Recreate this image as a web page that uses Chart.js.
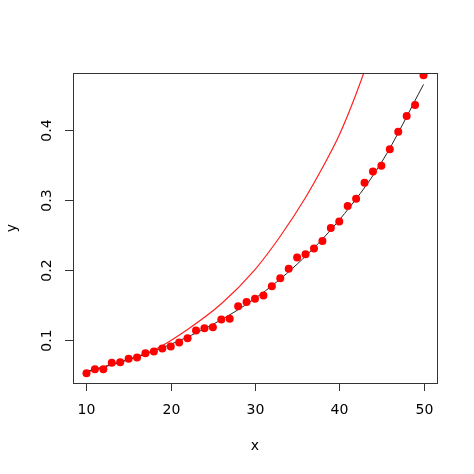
<!DOCTYPE html>
<html>
<head>
<meta charset="utf-8">
<script src="https://cdn.jsdelivr.net/npm/chart.js@4/dist/chart.umd.min.js"></script>
<style>
  html, body { margin: 0; padding: 0; background: #fff; }
</style>
</head>
<body>
<canvas id="grafico" width="474" height="474"></canvas>
<script>
// observed points
const xObs = [10,11,12,13,14,15,16,17,18,19,20,21,22,23,24,25,26,27,28,29,30,
              31,32,33,34,35,36,37,38,39,40,41,42,43,44,45,46,47,48,49,50];
const yObs = [0.0533,0.0590,0.0590,0.0681,0.0690,0.0738,0.0757,0.0819,0.0843,0.0886,0.0914,
              0.0971,0.1033,0.1143,0.1176,0.1190,0.1300,0.1310,0.1490,0.1548,0.1595,
              0.1643,0.1776,0.1890,0.2024,0.2186,0.2233,0.2314,0.2419,0.2605,0.2700,
              0.2919,0.3024,0.3252,0.3414,0.3495,0.3729,0.3981,0.4205,0.4362,0.4786];

// fitted curve (black)
const xFit = [10,15,20,25,30,35,40,45,50];
const yFit = [0.0557,0.0725,0.0945,0.1230,0.1600,0.2090,0.2720,0.3540,0.4655];

// other curve (red), goes off the top
const xRed = [10,14,18,22,26,30,33,36,38,40,42,44];
const yRed = [0.0547,0.0695,0.0863,0.1158,0.1524,0.2013,0.2488,0.3042,0.3465,0.3934,0.4520,0.5190];

const xTicks = [10,20,30,40,50];
const yTicks = [0.1,0.2,0.3,0.4];
const xLab = "x", yLab = "y";

const fuente = "DejaVu Sans";

function pares(xs, ys){
    let out = [];
    for(i=0;i<xs.length;i++){ out.push({x: xs[i], y: ys[i]}); }
    return out;
}

// box, ticks, labels drawn R-style
const ejesR = {
    id: "ejesR",
    afterDraw(chart){
        const ctx = chart.ctx;
        const a = chart.chartArea;
        const sx = chart.scales.x, sy = chart.scales.y;
        ctx.save();
        ctx.strokeStyle = "#333";
        ctx.lineWidth = 1;
        ctx.strokeRect(Math.round(a.left)+0.5, Math.round(a.top)+0.5,
                       Math.round(a.right-a.left), Math.round(a.bottom-a.top));
        ctx.fillStyle = "#000";
        ctx.font = "14px '" + fuente + "'";
        ctx.textAlign = "center";
        ctx.textBaseline = "middle";
        // x axis
        xTicks.forEach(t=>{
            const px = Math.round(sx.getPixelForValue(t))+0.5;
            ctx.beginPath();
            ctx.moveTo(px, a.bottom);
            ctx.lineTo(px, a.bottom+8);
            ctx.stroke();
            ctx.fillText(String(t), px, 410);
        });
        // y axis
        yTicks.forEach(t=>{
            const py = Math.round(sy.getPixelForValue(t))+0.5;
            ctx.beginPath();
            ctx.moveTo(a.left, py);
            ctx.lineTo(a.left-8, py);
            ctx.stroke();
            ctx.save();
            ctx.translate(47, py);
            ctx.rotate(-Math.PI/2);
            ctx.fillText(String(t), 0, 0);
            ctx.restore();
        });
        ctx.fillText(xLab, (a.left+a.right)/2, 446);
        ctx.save();
        ctx.translate(12, (a.top+a.bottom)/2);
        ctx.rotate(-Math.PI/2);
        ctx.fillText(yLab, 0, 0);
        ctx.restore();
        ctx.restore();
    }
};

new Chart(document.getElementById("grafico").getContext("2d"), {
    type: "scatter",
    data: {
        datasets: [{
            data: pares(xObs, yObs),
            backgroundColor: "#ff0000",
            borderColor: "#ff0000",
            pointRadius: 4,
            pointBorderWidth: 0,
            showLine: false,
            clip: 0,
            order: 1
        },{
            data: pares(xFit, yFit),
            borderColor: "#222",
            borderWidth: 1,
            pointRadius: 0,
            showLine: true,
            cubicInterpolationMode: "monotone",
            clip: 0,
            order: 2
        },{
            data: pares(xRed, yRed),
            borderColor: "#ff2020",
            borderWidth: 1.2,
            pointRadius: 0,
            showLine: true,
            cubicInterpolationMode: "monotone",
            clip: 0,
            order: 3
        }]
    },
    options: {
        responsive: false,
        animation: false,
        layout: { padding: { left: 73, top: 73, right: 37, bottom: 91 } },
        plugins: { legend: { display: false }, tooltip: { enabled: false } },
        scales: {
            x: { type: "linear", display: false, min: 8.4, max: 51.6 },
            y: { type: "linear", display: false, min: 0.0393, max: 0.4819 }
        }
    },
    plugins: [ejesR]
});
</script>
</body>
</html>
